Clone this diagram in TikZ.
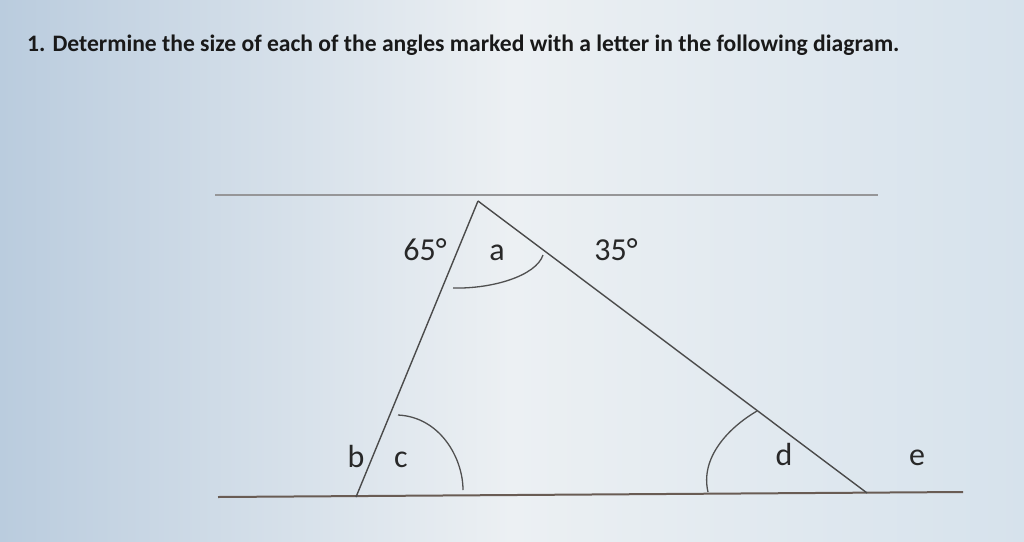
\documentclass[tikz,border=0pt]{standalone}
\usepackage{fontspec}
\setmainfont{Carlito}
\begin{document}
\begin{tikzpicture}[x=1pt,y=-1pt,
  lbl/.style={inner sep=0pt,anchor=base,font=\fontsize{32}{36}\selectfont,text={rgb,255:red,40;green,40;blue,40}},
  side/.style={draw={rgb,255:red,75;green,75;blue,75},line width=1.4pt},
  anglearc/.style={draw={rgb,255:red,80;green,80;blue,80},line width=1.3pt},
  parallel/.style={line width=2pt}]
\useasboundingbox (0,0) rectangle (1024,541);
\shade[left color={rgb,255:red,186;green,204;blue,222},right color={rgb,255:red,214;green,226;blue,236},middle color={rgb,255:red,236;green,240;blue,243}] (0,0) rectangle (1024,541);
% title
\node[inner sep=0pt,anchor=base west,font=\fontsize{23.6}{26}\selectfont\bfseries,text={rgb,255:red,25;green,25;blue,25}] (title) at (27,51) {1. Determine the size of each of the angles marked with a letter in the following diagram.};
% points
\coordinate (T1) at (215,195);
\coordinate (T2) at (878,195);
\coordinate (L1) at (218,497);
\coordinate (L2) at (963,492);
\coordinate (A) at (478,201);
\coordinate (B) at (356,497);
\coordinate (C) at (867,493);
% parallel lines
\draw[parallel,draw={rgb,255:red,150;green,150;blue,152}] (T1) -- (T2);
\draw[parallel,draw={rgb,255:red,105;green,92;blue,84}] (L1) -- (L2);
% triangle sides
\draw[side] (A) -- (B);
\draw[side] (A) -- (C);
% angle arcs
\draw[anglearc] (453,288) .. controls (492,289) and (536,276) .. (543,255);
\draw[anglearc] (398,415) .. controls (440,417) and (463,458) .. (463,490);
\draw[anglearc] (757,411) .. controls (728,428) and (700,458) .. (708,492);
% labels
\node[lbl] (l65) at (425,260) {65°};
\node[lbl] (la) at (497,260) {a};
\node[lbl] (l35) at (616,260) {35°};
\node[lbl] (lb) at (356,467) {b};
\node[lbl] (lc) at (401,467) {c};
\node[lbl] (ld) at (784,465) {d};
\node[lbl] (le) at (917,465) {e};
\end{tikzpicture}
\end{document}
